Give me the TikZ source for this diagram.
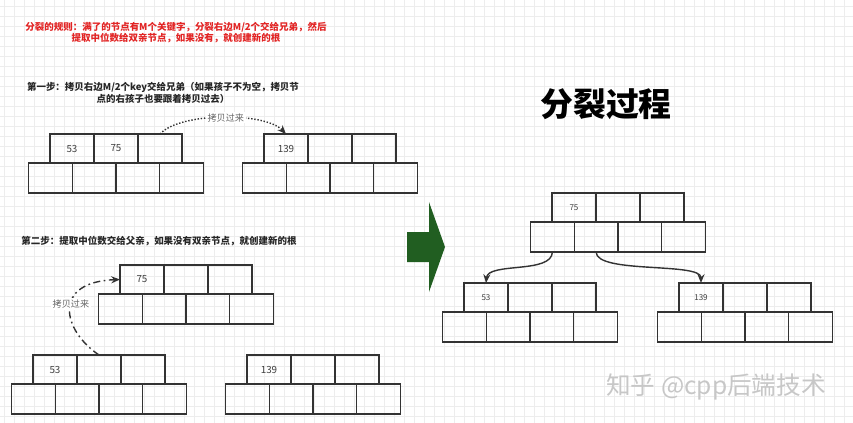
\documentclass[tikz,border=0pt]{standalone}
\usepackage{fontspec}
\setmainfont{Noto Sans CJK SC}
\usepackage{tikz}
\usetikzlibrary{
    positioning,   % Relative positioning
    calc,          % Coordinate calculations
    arrows.meta    % Modern arrow tips
}
\definecolor{RuleRed}{RGB}{226, 36, 36}
\definecolor{SplitGreen}{RGB}{33, 94, 33}
\definecolor{CellGray}{RGB}{51, 51, 51}

% One B-tree node: three key cells over four child pointer cells
\newcommand{\btreenode}[6][]{%
    \node[keycell, #1] (#2-k1) at (#3, #4) {#5};
    \node[keycell, #1, right=0pt of #2-k1] (#2-k2) {#6};
    \node[keycell, #1, right=0pt of #2-k2] (#2-k3) {};
    \node[ptrcell] (#2-p1) at ($(#2-k1.south west)+(-21.5, 0)$) {};
    \node[ptrcell, anchor=west, right=0pt of #2-p1] (#2-p2) {};
    \node[ptrcell, anchor=west, right=0pt of #2-p2] (#2-p3) {};
    \node[ptrcell, anchor=west, right=0pt of #2-p3] (#2-p4) {};
}

\begin{document}
\begin{tikzpicture}[x=0.02cm, y=-0.02cm,
    keycell/.style={draw=CellGray, line width=0.7pt, anchor=north west,
        minimum width=0.88cm, minimum height=0.58cm, inner sep=0pt, outer sep=0pt,
        text=black!75, font=\fontsize{5.6}{6}\selectfont},
    ptrcell/.style={draw=CellGray, line width=0.7pt, anchor=north west,
        minimum width=0.875cm, minimum height=0.6cm, inner sep=0pt, outer sep=0pt},
    smallkey/.style={font=\fontsize{4.6}{5}\selectfont},
    steptext/.style={align=center, font=\fontsize{5.4}{6.8}\selectfont\bfseries, text=black!85},
    gridline/.style={black!7, line width=0.3pt},
    copyline/.style={CellGray, line width=0.8pt, -{Stealth[length=5pt, width=4pt]}},
    copylabel/.style={fill=white, inner sep=1pt, text=black!60, font=\fontsize{5.2}{6}\selectfont}
]
    % Canvas and background grid
    \fill[white] (0, 0) rectangle (853, 423);
    \useasboundingbox (0, 0) rectangle (853, 423);
    \foreach \gx in {4, 14, ..., 853}
        \draw[gridline] (\gx, 0) -- (\gx, 423);
    \foreach \gy in {6, 16, ..., 423}
        \draw[gridline] (0, \gy) -- (853, \gy);

    % Rule and step captions
    \node[align=center, text=RuleRed, font=\fontsize{5.4}{6.2}\selectfont\bfseries] (rule) at (176, 32.5)
        {分裂的规则：满了的节点有M个关键字，分裂右边M/2个交给兄弟，然后\\提取中位数给双亲节点，如果没有，就创建新的根};
    \node[steptext] (stepone) at (163, 93)
        {第一步：拷贝右边M/2个key交给兄弟（如果孩子不为空，拷贝节\\点的右孩子也要跟着拷贝过去）};
    \node[steptext] (steptwo) at (159, 241)
        {第二步：提取中位数交给父亲，如果没有双亲节点，就创建新的根};
    \node[font=\fontsize{18.7}{20}\selectfont\bfseries] (title) at (606, 104) {分裂过程};

    % Step one
    \btreenode{full}{50}{134}{53}{75}
    \btreenode{sib}{264}{134}{139}{}
    \draw[copyline, densely dotted] (full-k3.north) .. controls (180, 112) and (265, 112) .. (sib-k1.north)
        node[copylabel, pos=0.52] (copyone) {拷贝过来};

    % Step two
    \btreenode{par}{120}{265}{75}{}
    \btreenode{left}{33}{355}{53}{}
    \btreenode{right}{247}{355}{139}{}
    \draw[copyline, dash pattern=on 4pt off 2pt on 1pt off 2pt] (left-k2.north)
        .. controls (62, 330) and (52, 282) .. (par-k1.west)
        node[copylabel, pos=0.55] (copytwo) {拷贝过来};

    % Big arrow
    \fill[SplitGreen] (407, 232) -- (429, 232) -- (429, 202) -- (445, 247)
        -- (429, 292) -- (429, 262) -- (407, 262) -- cycle;

    % Result of the split
    \btreenode[smallkey]{root}{552}{193}{75}{}
    \btreenode[smallkey]{lchild}{464}{283}{53}{}
    \btreenode[smallkey]{rchild}{679}{283}{139}{}
    \draw[copyline] (root-p1.south) .. controls (552, 274) and (488, 262) .. (lchild-k1.north);
    \draw[copyline] (root-p2.south) .. controls (596, 274) and (701, 262) .. (rchild-k1.north);

    % Watermark
    \node[text=black!22, font=\fontsize{14}{16}\selectfont] (mark) at (716, 387) {知乎 @cpp后端技术};
\end{tikzpicture}
\end{document}
